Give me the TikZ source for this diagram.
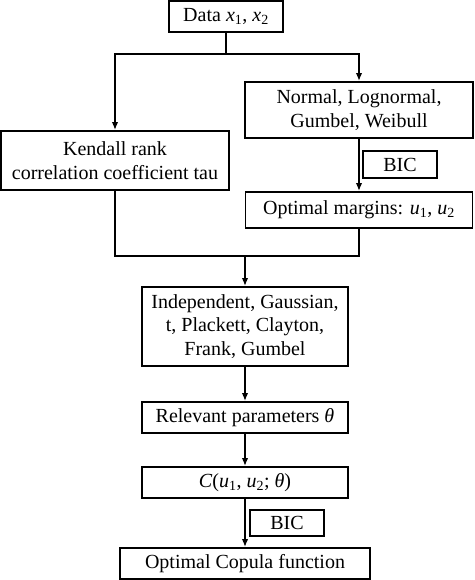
\documentclass[tikz,border=0pt]{standalone}
\usepackage{fontspec}
\setmainfont{Liberation Serif}
\usetikzlibrary{arrows.meta}
\begin{document}
\begin{tikzpicture}[x=1pt,y=-1pt,
  box/.style={draw, line width=1.9pt, inner sep=0pt, align=center,
    font=\fontsize{20}{23.5}\selectfont},
  conn/.style={line width=1.9pt},
  arr/.style={conn, -{Latex[length=8pt,width=6.5pt]}}]
\useasboundingbox (0,0) rectangle (474,580);
\node[box, minimum width=114pt, minimum height=31pt] (data) at (226,16.5) {Data \textit{x}\textsubscript{1}, \textit{x}\textsubscript{2}};
\node[box, minimum width=228pt, minimum height=56pt] (normal) at (359,110) {Normal, Lognormal,\\Gumbel, Weibull};
\node[box, minimum width=228pt, minimum height=59pt] (kendall) at (115,160.5) {Kendall rank\\correlation coefficient tau};
\node[box, minimum width=74pt, minimum height=27pt] (bic1) at (400,164.5) {BIC};
\node[box, minimum width=227pt, minimum height=36pt] (margins) at (359,210) {Optimal margins: \textit{u}\textsubscript{1}, \textit{u}\textsubscript{2}};
\node[box, minimum width=206pt, minimum height=79pt] (indep) at (245,326.5) {Independent, Gaussian,\\t, Plackett, Clayton,\\Frank, Gumbel};
\node[box, minimum width=206pt, minimum height=31pt] (relevant) at (245,417.5) {Relevant parameters \textit{θ}};
\node[box, minimum width=206pt, minimum height=31pt] (cfun) at (245,482.5) {\textit{C}(\textit{u}\textsubscript{1}, \textit{u}\textsubscript{2}; \textit{θ})};
\node[box, minimum width=74pt, minimum height=26pt] (bic2) at (287,523) {BIC};
\node[box, minimum width=250pt, minimum height=31pt] (copula) at (245,563.5) {Optimal Copula function};
\coordinate (s1) at (226,54);
\coordinate (j2) at (245,256);
\draw[conn] (data.south) -- (s1);
\draw[arr] (s1) -| (kendall.north);
\draw[arr] (s1) -| (normal.north);
\draw[arr] (normal.south) -- (margins.north);
\draw[conn] (kendall.south) |- (j2) -| (margins.south);
\draw[arr] (j2) -- (indep.north);
\draw[arr] (indep.south) -- (relevant.north);
\draw[arr] (relevant.south) -- (cfun.north);
\draw[arr] (cfun.south) -- (copula.north);
\end{tikzpicture}
\end{document}
